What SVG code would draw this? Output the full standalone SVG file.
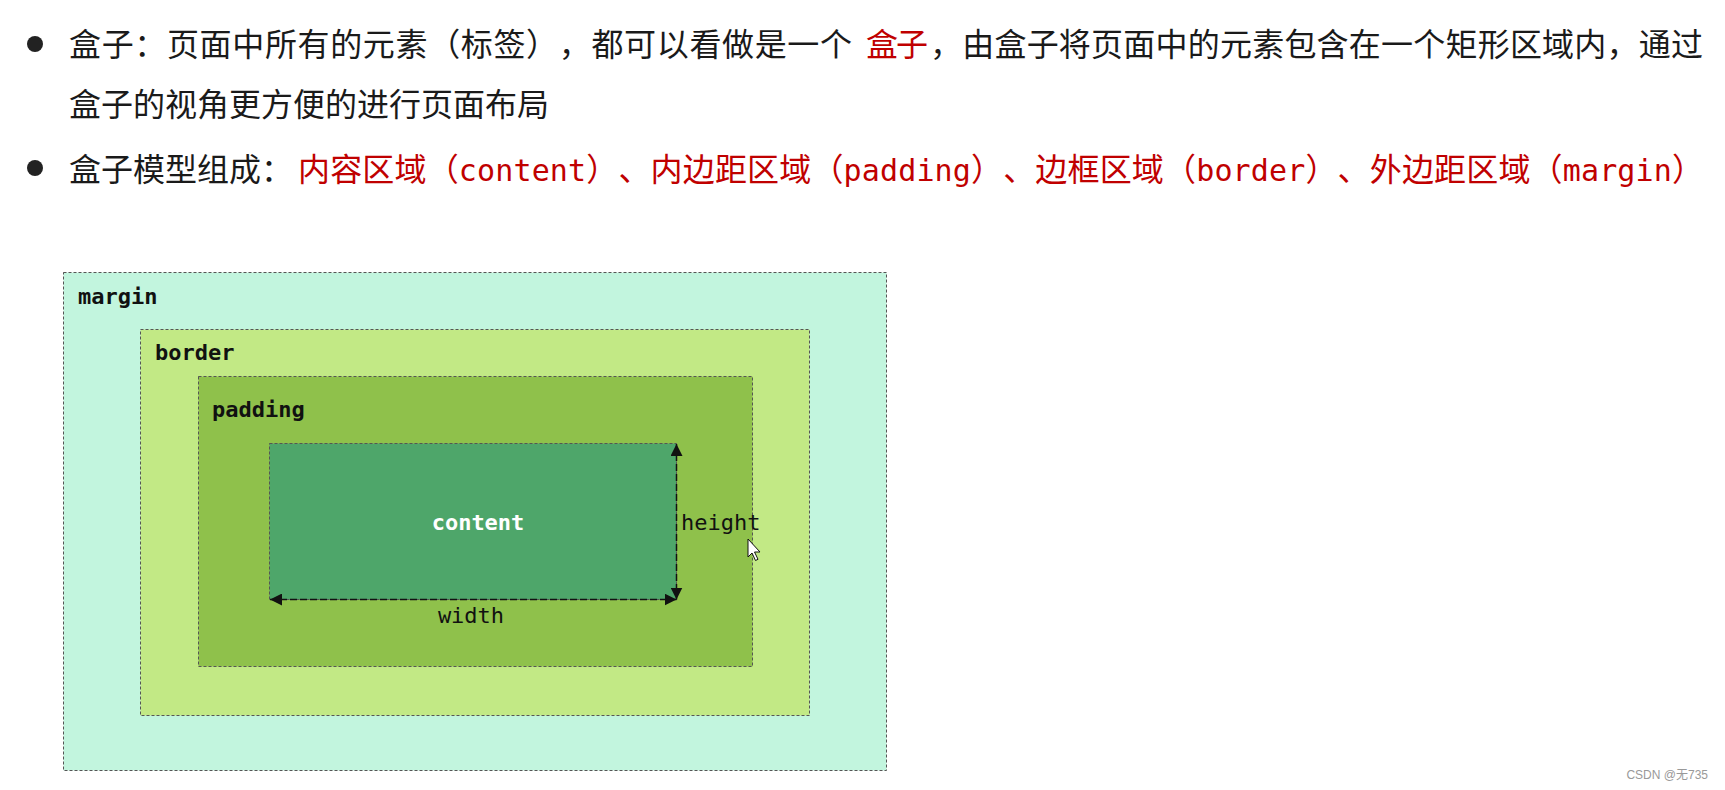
<svg xmlns="http://www.w3.org/2000/svg" width="1725" height="790" viewBox="0 0 1725 790">
<style>
.cjk{font-family:"Noto Sans CJK SC","Noto Sans",sans-serif;font-size:32px;fill:#1a1a1a;text-spacing-trim:space-all;font-feature-settings:"chws" 0,"halt" 0}
.red{fill:#c00000}
.mono{font-family:"DejaVu Sans Mono","Liberation Mono",monospace}
.lbl{font-family:"DejaVu Sans Mono","Liberation Mono",monospace;font-size:22px;font-weight:bold;fill:#111}
.box{stroke:#555;stroke-width:1;stroke-dasharray:3,2}
.dim{stroke:#111;stroke-width:1.5;stroke-dasharray:7,3;fill:none}
</style>
<defs>
<marker id="ah" viewBox="0 0 10 10" refX="10" refY="5" markerWidth="12" markerHeight="12" markerUnits="userSpaceOnUse" orient="auto-start-reverse">
<path d="M0,0 L10,5 L0,10 z" fill="#111"/>
</marker>
</defs>
<rect width="1725" height="790" fill="#fff"/>
<g id="text-top">
<circle cx="35" cy="44" r="8" fill="#222"/>
<text class="cjk" x="69" y="56" textLength="783" lengthAdjust="spacing">盒子：页面中所有的元素（标签），都可以看做是一个</text>
<text class="cjk red" x="866" y="56" textLength="62" lengthAdjust="spacing">盒子</text>
<text class="cjk" x="930" y="56" textLength="773" lengthAdjust="spacing">，由盒子将页面中的元素包含在一个矩形区域内，通过</text>
<text class="cjk" x="69" y="116">盒子的视角更方便的进行页面布局</text>
<circle cx="35" cy="168" r="8" fill="#222"/>
<text class="cjk" x="69" y="181">盒子模型组成：</text>
<text class="cjk red" x="298" y="181" textLength="1406" lengthAdjust="spacing">内容区域（<tspan class="mono" font-size="30">content</tspan>）、内边距区域（<tspan class="mono" font-size="30">padding</tspan>）、边框区域（<tspan class="mono" font-size="30">border</tspan>）、外边距区域（<tspan class="mono" font-size="30">margin</tspan>）</text>
</g>
<g id="margin">
<rect class="box" x="63.5" y="272.5" width="823" height="498" fill="#c2f5de"/>
<text class="lbl" x="78" y="304">margin</text>
</g>
<g id="border">
<rect class="box" x="140.5" y="329.5" width="669" height="386" fill="#c2e985"/>
<text class="lbl" x="155" y="360">border</text>
</g>
<g id="padding">
<rect class="box" x="198.5" y="376.5" width="554" height="290" fill="#8fc14b"/>
<text class="lbl" x="212" y="417">padding</text>
</g>
<g id="content">
<rect class="box" x="269.5" y="443.5" width="407" height="156" fill="#4ea66a"/>
<text class="lbl" x="478" y="530" text-anchor="middle" style="fill:#fff">content</text>
</g>
<g id="connectors">
<line class="dim" x1="270" y1="599.5" x2="676.5" y2="599.5" marker-start="url(#ah)" marker-end="url(#ah)"/>
<line class="dim" x1="676.5" y1="444" x2="676.5" y2="599.5" marker-start="url(#ah)" marker-end="url(#ah)"/>
</g>
<g id="dim-labels">
<text class="lbl" x="681" y="530" style="font-weight:normal">height</text>
<text class="lbl" x="471" y="623" text-anchor="middle" style="font-weight:normal">width</text>
</g>
<path d="M748,539 l0,18 l4,-4 l3.5,7.5 l2.5,-1.2 l-3.5,-7.3 l5.5,0 z" fill="#fff" stroke="#111" stroke-width="1"/>
<text x="1708" y="779" text-anchor="end" style="font-family:'Liberation Sans','Noto Sans CJK SC',sans-serif;font-size:12px;fill:#999">CSDN @无735</text>
</svg>
